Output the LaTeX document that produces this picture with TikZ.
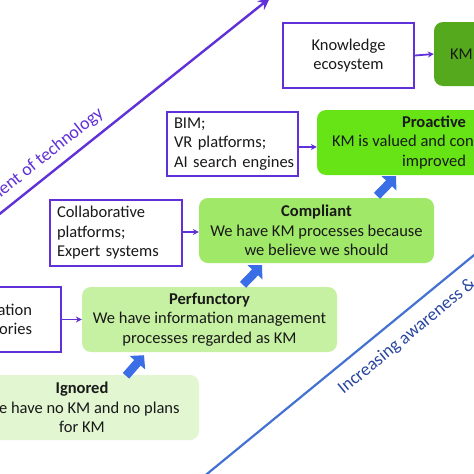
\documentclass[tikz,border=0pt]{standalone}
\usepackage{fontspec}
\setmainfont{Carlito}
\usetikzlibrary{arrows.meta,calc}
\definecolor{purp}{RGB}{96,48,216}
\definecolor{gA}{RGB}{84,170,28}
\definecolor{gB}{RGB}{102,228,22}
\definecolor{gC}{RGB}{160,232,104}
\definecolor{gD}{RGB}{198,240,162}
\definecolor{gE}{RGB}{226,246,210}
\definecolor{blockblue}{RGB}{58,110,230}
\definecolor{lineblue}{RGB}{68,114,210}
\definecolor{textblue}{RGB}{40,70,160}
\definecolor{ink}{RGB}{25,25,25}
\tikzset{
  techbox/.style={draw=purp, line width=2pt, fill=white, text=ink, minimum height=65pt, inner sep=0pt},
  stage/.style={rounded corners=9pt, align=center, text=ink, minimum height=65pt, inner sep=0pt},
  link/.style={draw=purp, line width=1.8pt, -{Stealth[length=6pt,width=6pt]}},
  fat/.style={draw=blockblue, line width=8.5pt, -{Triangle[length=10pt,width=20pt]}},
  axislabel/.style={font=\fontsize{18}{21}\selectfont},
}
\begin{document}
\begin{tikzpicture}[x=1pt,y=-1pt, font=\fontsize{16.5}{19.5}\selectfont]
\useasboundingbox (0,0) rectangle (474,474);
\fill[white] (0,0) rectangle (474,474);
\clip (0,0) rectangle (474,474);

% axes
\coordinate (p0) at (-20,229.6);
\coordinate (p1) at (270,-2);
\draw[purp, line width=2.4pt, -{Stealth[length=12pt,width=11pt]}] (p0) -- (p1);
\node[axislabel, purp, rotate=38.66, anchor=base east] (tech) at (107,113) {ment of technology};

\coordinate (q0) at (205,475.6);
\coordinate (q1) at (490,242);
\draw[lineblue, line width=2.2pt] (q0) -- (q1);
\node[axislabel, textblue, rotate=39.4, anchor=base west] (aware) at (341,397) {Increasing awareness \&};

% technology boxes
\node[techbox, minimum width=131pt, align=center] (know) at (348.5,55.5) {Knowledge\\ecosystem};
\node[techbox, minimum height=64pt, text width=117pt, inner xsep=7pt, align=left] (bim) at (232.5,144) {\mbox{BIM;}\\\mbox{VR platforms;}\\\mbox{AI search engines}};
\node[techbox, minimum height=66pt, text width=118pt, inner xsep=7pt, align=left] (collab) at (116,233) {\mbox{Collaborative}\\\mbox{platforms;}\\\mbox{Expert systems}};
\node[techbox, anchor=east, text width=80pt, inner xsep=29pt, align=right] (info) at (62,319.5) {ation\\ories};

% stages
\node[stage, fill=gA, minimum height=64pt, text width=110pt, inner xsep=16pt, align=left] (km) at (505,54) {KM};
\node[stage, fill=gB, minimum width=234pt] (pro) at (434,142.5) {\textbf{Proactive}\\\makebox[204pt][l]{KM is valued and con}\\improved};
\node[stage, fill=gC, minimum width=235pt] (comp) at (316.5,230.5) {\textbf{Compliant}\\We have KM processes because\\we believe we should};
\node[stage, fill=gD, minimum width=255pt] (perf) at (209.5,319.5) {\textbf{Perfunctory}\\We have information management\\processes regarded as KM};
\node[stage, fill=gE, minimum width=234pt] (ign) at (82,407.5) {\textbf{Ignored}\\\phantom{W}e have no KM and no plans\\for KM};

% links
\draw[link] (know.east) -- (km.west);
\draw[link] ($(bim.east)+(0,3)$) -- ($(bim.east -| pro.west)+(0,3)$);
\draw[link] ($(collab.east)+(0,-1)$) -- ($(collab.east -| comp.west)+(0,-1)$);
\draw[link] (info.east) -- (info.east -| perf.west);

% progression arrows
\draw[fat] ($(ign.north)+(44,1)$) -- ($(perf.south)+(-65.5,3)$);
\draw[fat] ($(perf.north)+(33.5,-2)$) -- ($(comp.south)+(-54.5,2)$);
\draw[fat] ($(comp.north)+(60.5,-2)$) -- ($(pro.south)+(-38,1)$);
\end{tikzpicture}
\end{document}
